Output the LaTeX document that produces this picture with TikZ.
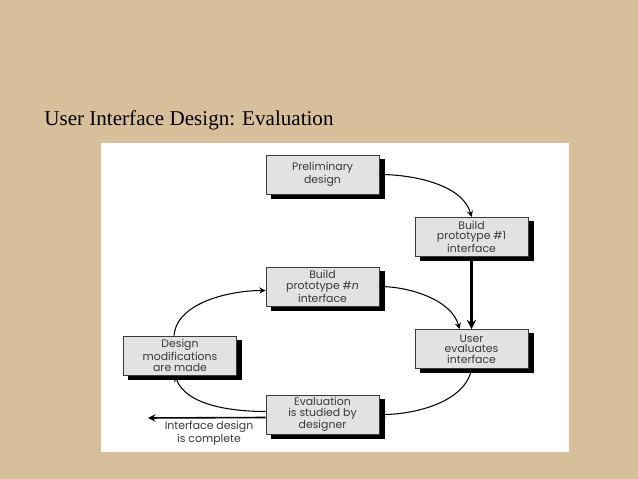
\documentclass[tikz,border=0pt]{standalone}
\usepackage{fontspec}
\setmainfont{Liberation Serif}
\newfontfamily\boxfont{Poppins}
\usetikzlibrary{shadows}
\definecolor{slidetan}{HTML}{D8BF9B}
\definecolor{boxgray}{HTML}{E2E2E2}
\definecolor{boxtext}{HTML}{3A3A3A}
\tikzset{
  stage/.style={draw=boxtext, line width=0.5pt, fill=boxgray, minimum width=2.26cm, minimum height=0.78cm,
    inner sep=0pt, align=center, text=boxtext, font=\boxfont\fontsize{6.2}{6.1}\selectfont,
    copy shadow={shadow xshift=0.1cm, shadow yshift=-0.08cm, fill=black, draw=black}},
  link/.style={-stealth, line width=0.6pt, black},
  heavylink/.style={-stealth, line width=1.3pt, black},
  exitlink/.style={-stealth, line width=0.9pt, black}
}
\begin{document}
\begin{tikzpicture}[x=0.02cm, y=0.02cm]
\useasboundingbox (0,0) rectangle (638,479);
\fill[slidetan] (0,0) rectangle (638,479);
\fill[white] (101,27) rectangle (569,336);
\node[anchor=base west, inner sep=0pt, font=\fontsize{12}{14}\selectfont, text=black] (title) at (44,353) {User Interface Design: Evaluation};
% boxes
\node[stage] (prelim) at (322.5,304.5) {Preliminary\\design};
\node[stage] (buildone) at (471.5,242) {Build\\prototype \#1\\interface};
\node[stage] (buildn) at (322.5,192.5) {Build\\prototype \#\textit{n}\\interface};
\node[stage] (user) at (471.5,130) {User\\evaluates\\interface};
\node[stage] (design) at (180,123.5) {Design\\modifications\\are made};
\node[stage] (evaln) at (322.5,64.5) {Evaluation\\is studied by\\designer};
\coordinate (done) at (148,61);
\node[font=\boxfont\fontsize{6.2}{6.1}\selectfont, text=boxtext, align=center, inner sep=0pt] (donetext) at (209,45.5) {Interface design\\is complete};
% connectors
\draw[link] (prelim.east) to[out=0, in=105, looseness=0.85] (buildone.north);
\draw[heavylink] (buildone.south) -- (user.north);
\draw[link] (buildn.east) to[out=0, in=105, looseness=0.85] ([xshift=-0.24cm]user.north);
\draw[link] (user.south) to[out=-100, in=0, looseness=0.85] (evaln.east);
\draw[link] ([yshift=0.06cm]evaln.west) to[out=180, in=-70, looseness=0.85] ([xshift=-0.1cm]design.south);
\draw[exitlink] ([yshift=-0.06cm]evaln.west) -- (done);
\draw[link] ([xshift=-0.12cm]design.north) to[out=85, in=180, looseness=0.85] ([yshift=-0.08cm]buildn.west);
\end{tikzpicture}
\end{document}
